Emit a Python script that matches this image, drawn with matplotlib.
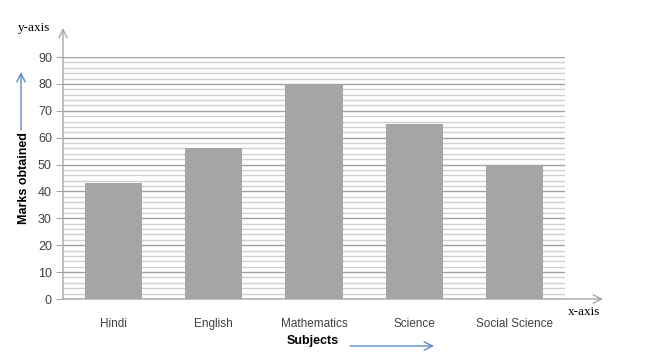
import matplotlib.pyplot as plt
from matplotlib.ticker import MultipleLocator
import numpy as np

subjects = ["Hindi", "English", "Mathematics", "Science", "Social Science"]
marks = [43, 56, 80, 65, 50]

BAR_COLOR = "#a5a5a5"
AXIS_GRAY = "#a6a6a6"
TEXT_GRAY = "#404040"
BLUE = "#5b8cc8"

plt.rcParams["font.family"] = ["Liberation Sans", "DejaVu Sans"]

fig = plt.figure(figsize=(6.47, 3.63), dpi=100)
ax = fig.add_axes([63 / 647, 1 - 299 / 363, (565 - 63) / 647, (299 - 57) / 363])

x = np.arange(len(subjects))
ax.bar(x, marks, width=0.57, color=BAR_COLOR, zorder=3)

ax.set_xlim(-0.5, len(subjects) - 0.5)
ax.set_ylim(0, 90)
ax.yaxis.set_major_locator(MultipleLocator(10))
ax.yaxis.set_minor_locator(MultipleLocator(2))
ax.grid(axis="y", which="major", color="#a0a0a0", linewidth=1.0, zorder=1)
ax.grid(axis="y", which="minor", color="#d0d0d0", linewidth=1.0, zorder=1)

for s in ["top", "right", "left", "bottom"]:
    ax.spines[s].set_visible(False)

ax.set_xticks(x)
ax.set_xticklabels(subjects, fontsize=8.5, color=TEXT_GRAY)
ax.tick_params(axis="x", length=0, pad=14)
ax.tick_params(axis="y", which="major", length=5, color=AXIS_GRAY, labelsize=9, labelcolor=TEXT_GRAY, pad=3)
ax.tick_params(axis="y", which="minor", length=0)


def fig_arrow(x0, y0, x1, y1, color):
    # coordinates in pixels from the top-left corner
    fig.add_artist(plt.matplotlib.patches.FancyArrowPatch(
        (x0 / 647, 1 - y0 / 363), (x1 / 647, 1 - y1 / 363), transform=fig.transFigure,
        arrowstyle="->,head_length=6,head_width=3", color=color, linewidth=1.0,
        mutation_scale=1, shrinkA=0, shrinkB=0))


# axis lines with open arrow heads
fig_arrow(63, 299, 63, 28, AXIS_GRAY)
fig_arrow(63, 299, 603, 299, AXIS_GRAY)

# blue direction arrows
fig_arrow(21, 130, 21, 72, BLUE)
fig_arrow(350, 346, 434, 346, BLUE)

fig.text(18 / 647, 1 - 28 / 363, "y-axis", fontsize=9.5, family="Liberation Serif",
         ha="left", va="center", color="black")
fig.text(568 / 647, 1 - 312 / 363, "x-axis", fontsize=9.5, family="Liberation Serif",
         ha="left", va="center", color="black")
fig.text(24 / 647, 1 - 178 / 363, "Marks obtained", fontsize=9, fontweight="bold",
         rotation=90, ha="center", va="center", color="black")
fig.text(313 / 647, 1 - 341 / 363, "Subjects", fontsize=9, fontweight="bold",
         ha="center", va="center", color="black")

fig.savefig("out.png", dpi=100, facecolor="white")
